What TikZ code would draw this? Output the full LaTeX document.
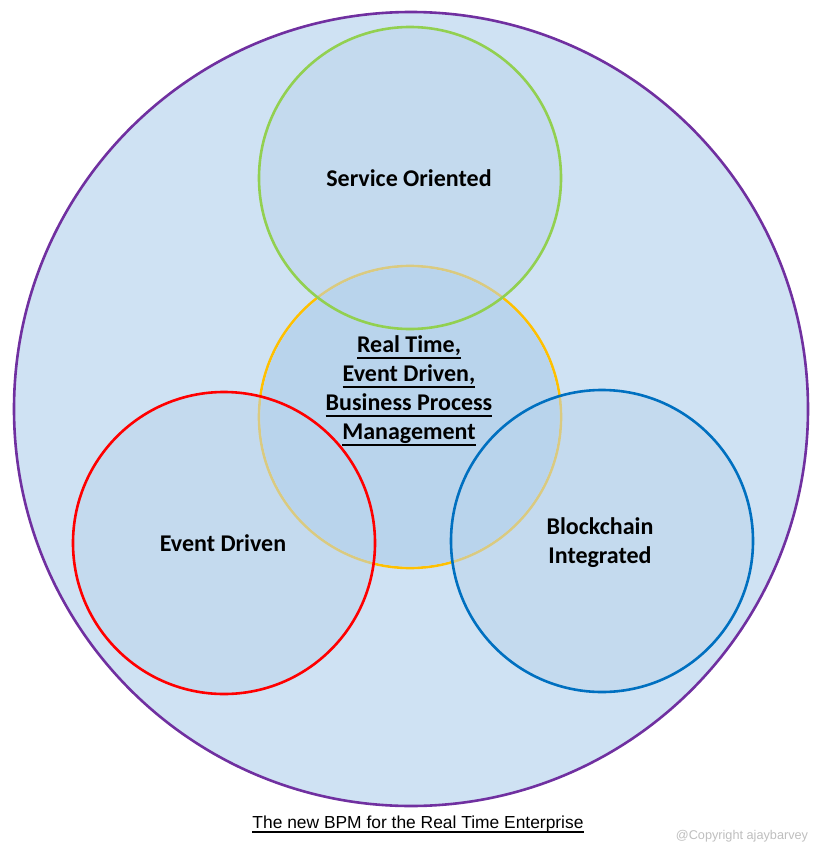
\documentclass[tikz,border=0pt]{standalone}
\usepackage{fontspec}
\setmainfont{Carlito}
\newfontfamily\arialfont{Liberation Sans}
\definecolor{outerfill}{RGB}{207,226,243}
\definecolor{innerfill}{RGB}{188,212,234}
\definecolor{centerfill}{RGB}{185,212,236}
\definecolor{purpleline}{RGB}{112,48,160}
\definecolor{greenline}{RGB}{146,208,80}
\definecolor{redline}{RGB}{255,0,0}
\definecolor{blueline}{RGB}{0,112,192}
\definecolor{orangeline}{RGB}{255,192,0}
\definecolor{copygray}{RGB}{190,190,190}
\newcommand{\myul}[1]{\setbox0\hbox{#1}\rlap{\rule[-6.6pt]{\wd0}{2pt}}\box0}
\newcommand{\myult}[1]{\setbox0\hbox{#1}\rlap{\rule[-4.6pt]{\wd0}{1.8pt}}\box0}
\tikzset{
  ring/.style={line width=2.6pt},
  overlayfill/.style={fill=innerfill, fill opacity=0.55},
  label/.style={font=\fontsize{24}{29}\selectfont\bfseries, align=center, inner sep=0pt},
}
\begin{document}
\begin{tikzpicture}[x=1pt,y=-1pt]
\useasboundingbox (0,0) rectangle (831,848);
% outer circle
\fill[outerfill] (411,409) circle (397);
\draw[purpleline, ring] (411,409) circle (397);
% yellow ring (underneath)
\draw[orangeline, ring] (410,417) circle (151);
% translucent fills
\fill[overlayfill] (410,178) circle (151);
\fill[overlayfill] (224,543) circle (151);
\fill[overlayfill] (602,541) circle (151);
% centre fill
\fill[centerfill] (410,417) circle (149.6);
% rings on top
\draw[greenline, ring] (410,178) circle (151);
\draw[redline, ring] (224,543) circle (151);
\draw[blueline, ring] (602,541) circle (151);
% texts
\node[label] (so) at (409,178) {Service Oriented};
\node[label] (ed) at (223,543) {Event Driven};
\node[label] (bi) at (600,543) {Blockchain\\Integrated};
\node[label] (rt) at (409,390.5) {\myul{Real Time,}\\\myul{Event Driven,}\\\myul{Business Process}\\\myul{Management}};
\node[font=\arialfont\fontsize{17.4}{20}\selectfont, inner sep=0pt] (title) at (418,824) {\myult{The new BPM for the Real Time Enterprise}};
\node[font=\arialfont\fontsize{12.7}{15}\selectfont, text=copygray, inner sep=0pt] (copy) at (742,836) {@Copyright ajaybarvey};
\end{tikzpicture}
\end{document}
